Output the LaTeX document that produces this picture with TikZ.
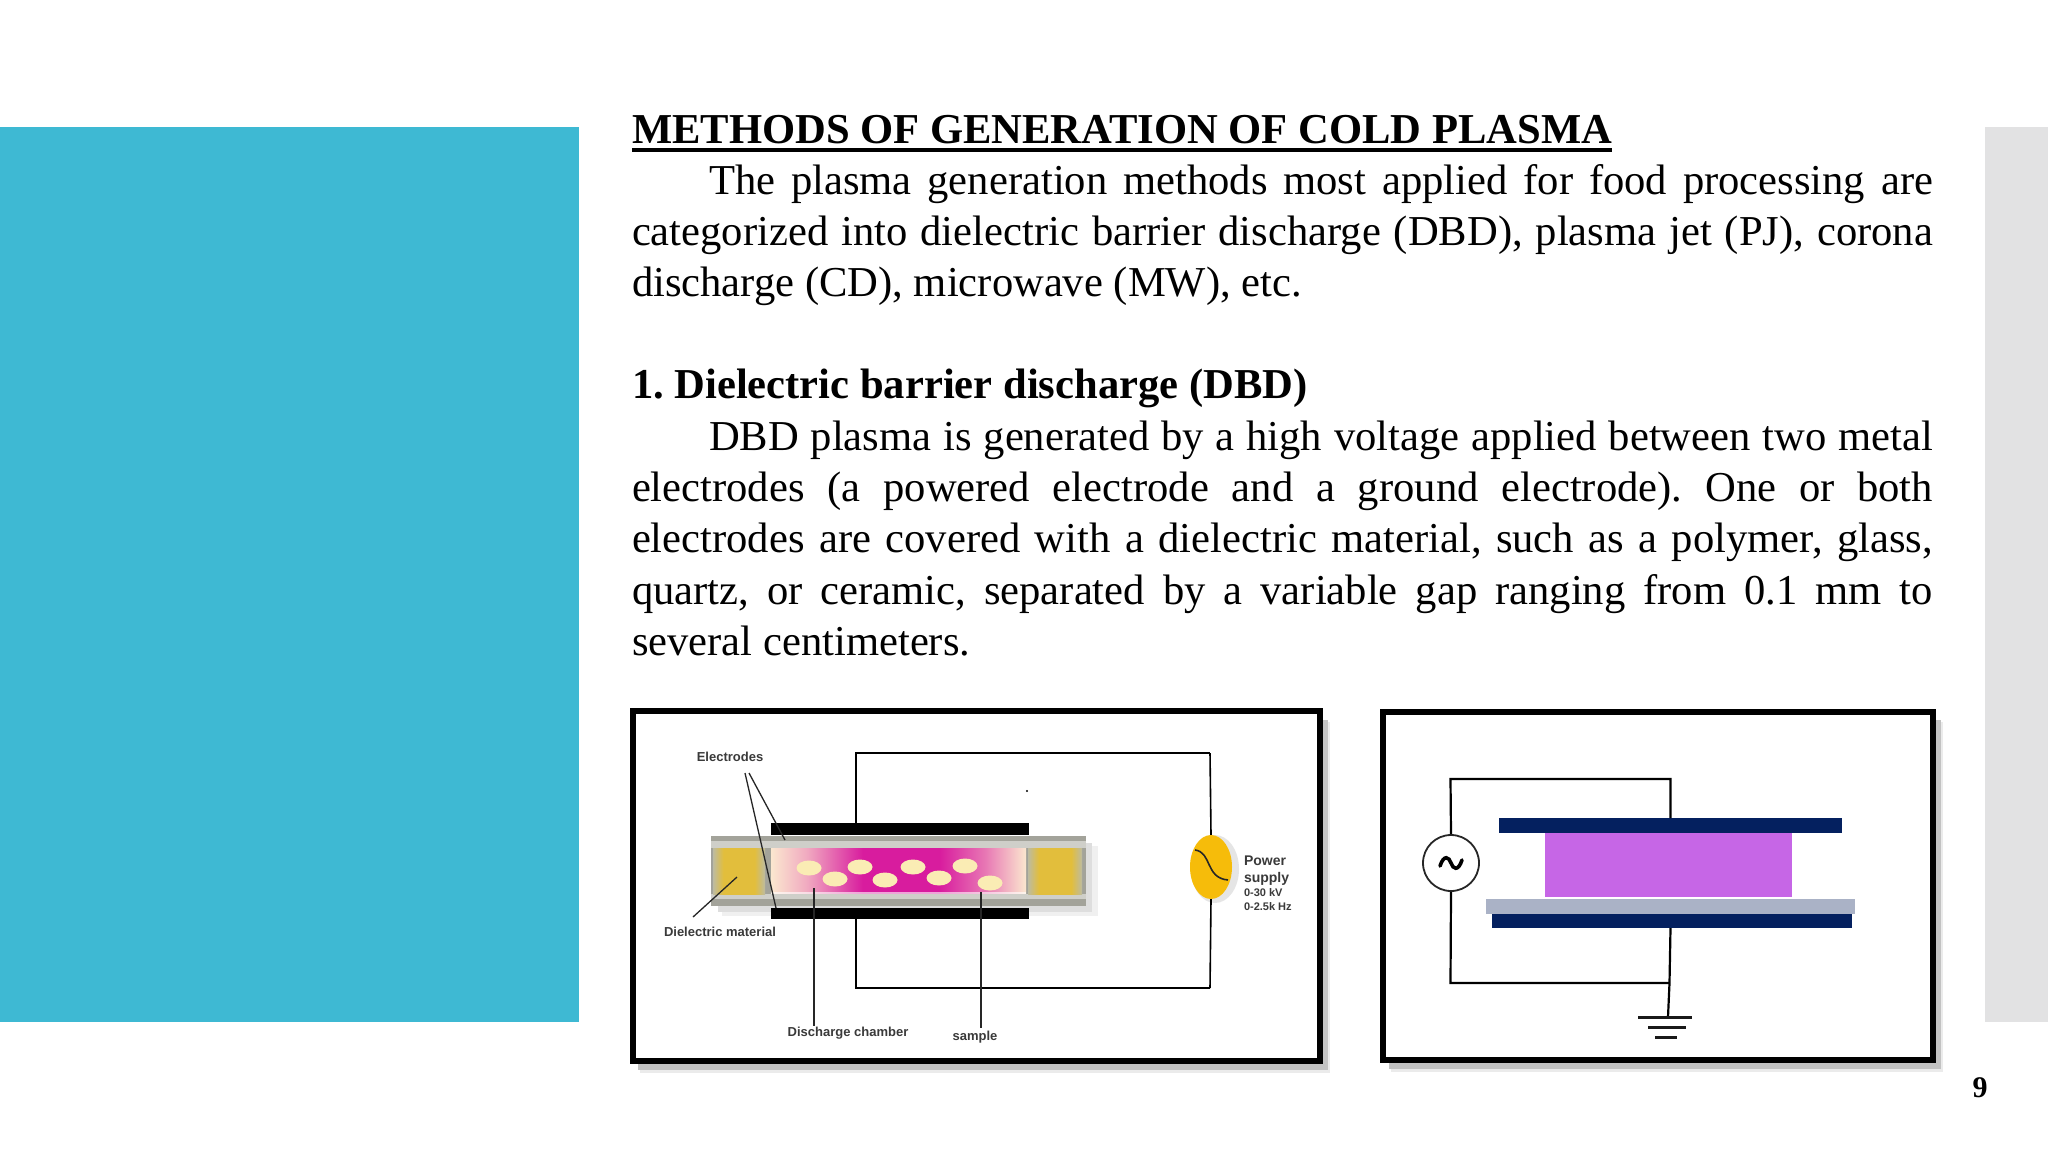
\documentclass[tikz,border=0pt]{standalone}
\usepackage{fontspec}
\setmainfont{Liberation Serif}
\newfontfamily\labelfont{Liberation Sans}
\definecolor{teal1}{HTML}{3EB9D3}
\definecolor{sidegray}{HTML}{E2E2E3}
\definecolor{navy1}{HTML}{04205F}
\definecolor{purp}{HTML}{C666E6}
\definecolor{plategray}{HTML}{AAB2C6}
\definecolor{tubegray}{HTML}{A3A39A}
\definecolor{tubelight}{HTML}{CFCFC9}
\definecolor{magenta1}{HTML}{D81C9E}
\definecolor{palepink}{HTML}{FBE7CF}
\definecolor{gold1}{HTML}{E2BE3C}
\definecolor{goldedge}{HTML}{BDBBA0}
\definecolor{sun}{HTML}{F6BC0A}
\definecolor{seed}{HTML}{FAECB4}
\definecolor{lbl}{HTML}{3A3A3A}
\colorlet{pinkA}{palepink!70!magenta1}
\colorlet{pinkB}{palepink!45!magenta1}
\newcommand{\bodysize}{\fontsize{42.6}{48}\selectfont}
\newcommand{\jline}[1]{\hbox to 1301pt{#1}}
\newcommand{\iline}[1]{\hbox to 1224pt{#1}}
\pgfdeclarehorizontalshading{plasmashade}{100bp}{
  color(0bp)=(palepink); color(25bp)=(palepink); color(32bp)=(pinkA); color(43bp)=(magenta1);
  color(58bp)=(magenta1); color(67bp)=(pinkB); color(75bp)=(palepink); color(100bp)=(palepink)}
\pgfdeclarehorizontalshading{goldshade}{100bp}{
  color(0bp)=(goldedge); color(25bp)=(goldedge); color(35bp)=(gold1); color(65bp)=(gold1); color(75bp)=(goldedge); color(100bp)=(goldedge)}
\usetikzlibrary{shapes.geometric}
\tikzset{
  x=1pt,y=-1pt,
  txt/.style={anchor=base west,inner sep=0pt,outer sep=0pt,font=\bodysize},
  framebox/.style={draw=black,line width=6pt,fill=white,inner sep=0pt,outer sep=0pt},
  solid box/.style={inner sep=0pt,outer sep=0pt,draw=none},
  wire/.style={draw=black,line width=1.6pt},
  leader/.style={draw=black!85,line width=1.3pt},
  wireb/.style={draw=black,line width=2.2pt},
  small/.style={inner sep=0pt,outer sep=0pt,text=lbl,font=\labelfont\bfseries\fontsize{13}{15}\selectfont},
  smalltop/.style={inner sep=0pt,outer sep=0pt,text=lbl,anchor=west,font=\labelfont\bfseries\fontsize{14}{16}\selectfont},
  smaller/.style={inner sep=0pt,outer sep=0pt,text=lbl,anchor=west,font=\labelfont\bfseries\fontsize{11}{13}\selectfont},
  seedball/.style={ellipse,minimum width=25pt,minimum height=15pt,inner sep=0pt,fill=seed},
  groundbar/.style={draw=black!90,line width=3pt},
}
\begin{document}
\frenchspacing
\begin{tikzpicture}
\useasboundingbox (0,0) rectangle (2048,1152);
% background bands
\fill[teal1] (0,127) rectangle (579,1022);
\fill[sidegray] (1985,127) rectangle (2048,1022);
% text
\node[txt,font=\bodysize\bfseries] (title) at (632,143) {METHODS OF GENERATION OF COLD PLASMA};
\draw[line width=3.6pt] ([yshift=-7pt]title.base west) -- ([yshift=-7pt]title.base east);
\node[txt] (l1) at (709,194) {\iline{The plasma generation methods most applied for food processing are}};
\node[txt] (l2) at (632,245) {\jline{categorized into dielectric barrier discharge (DBD), plasma jet (PJ), corona}};
\node[txt] (l3) at (632,296) {discharge (CD), microwave (MW), etc.};
\node[txt,font=\bodysize\bfseries] (h1) at (632,398.5) {1. Dielectric barrier discharge (DBD)};
\node[txt] (l4) at (709,450) {\iline{DBD plasma is generated by a high voltage applied between two metal}};
\node[txt] (l5) at (632,501) {\jline{electrodes (a powered electrode and a ground electrode). One or both}};
\node[txt] (l6) at (632,552.5) {\jline{electrodes are covered with a dielectric material, such as a polymer, glass,}};
\node[txt] (l7) at (632,604) {\jline{quartz, or ceramic, separated by a variable gap ranging from 0.1 mm to}};
\node[txt] (l8) at (632,655) {several centimeters.};
% page number
\node[inner sep=0pt,font=\fontsize{30}{32}\selectfont\bfseries] (pg) at (1980,1088) {9};
% frame shadows
\fill[black!8] (640,722) rectangle (1330,1073);
\fill[black!24] (638,720) rectangle (1328,1070);
\fill[black!8] (1391,722) rectangle (1943,1072);
\fill[black!24] (1389,720) rectangle (1941,1069);
% frames
\node[framebox,minimum width=687pt,minimum height=350pt] (f1) at (976.5,886) {};
\node[framebox,minimum width=550pt,minimum height=348pt] (f2) at (1658,886) {};
% ---- left figure: wiring
\coordinate (wtl) at (856,753);
\coordinate (wtr) at (1210,753);
\coordinate (wbl) at (856,988);
\coordinate (wbr) at (1210,988);
% tube
\fill[black!6] (722,846) rectangle (1098,916);
\fill[black!13] (718,843) rectangle (1092,912);
\fill[tubegray] (711,836) rectangle (1086,906);
\fill[tubelight] (711,841) rectangle (1086,848);
\fill[tubelight] (711,894) rectangle (1086,899);
\node[solid box,minimum width=52pt,minimum height=46pt,shading=goldshade] (yl) at (739,871) {};
\node[solid box,minimum width=54pt,minimum height=46pt,shading=goldshade] (yr) at (1055,871) {};
\node[solid box,minimum width=255pt,minimum height=45pt,shading=plasmashade] (chamber) at (898.5,870.5) {};
\node[solid box,fill=white,opacity=.6,minimum width=255pt,minimum height=1.6pt] (gl) at (898.5,893) {};
\node[solid box,fill=black,minimum width=257.5pt,minimum height=12pt] (etop) at (900,829) {};
\node[solid box,fill=black,minimum width=257.5pt,minimum height=11pt] (ebot) at (900,913.5) {};
\draw[wire] (etop.north -| wtl) -- (wtl) -- (wtr);
\draw[wire] (ebot.south -| wbl) -- (wbl) -- (wbr);
% seeds
\node[seedball] (s1) at (809,868) {};
\node[seedball] (s2) at (835,879) {};
\node[seedball] (s3) at (860,867) {};
\node[seedball] (s4) at (885,880) {};
\node[seedball] (s5) at (913,867) {};
\node[seedball] (s6) at (939,878) {};
\node[seedball] (s7) at (965,866) {};
\node[seedball] (s8) at (990,883) {};
% power supply
\node[ellipse,minimum width=48pt,minimum height=68pt,inner sep=0pt,fill=black!10] (pshalo) at (1215,869) {};
\node[ellipse,minimum width=42pt,minimum height=64pt,inner sep=0pt,fill=sun] (ps) at (1211,867) {};
\draw[wire] (ps.north) -- (wtr);
\draw[wire] (ps.south) -- (wbr);
\draw[black!85,line width=1.6pt] (1195,850) .. controls (1212,852) and (1205,878) .. (1228,880);
% labels
\node[small] (lelec) at (730,757) {Electrodes};
\node[small] (ldiel) at (720,932) {Dielectric material};
\node[small] (ldisc) at (848,1033) {Discharge chamber};
\node[small] (lsamp) at (975,1037) {sample};
\node[smalltop] (lpow) at (1244,861) {Power};
\node[smalltop] (lsup) at (1244,879) {supply};
\node[smaller] (lkv) at (1244,893) {0-30 kV};
\node[smaller] (lhz) at (1244,907) {0-2.5k Hz};
\coordinate (e1a) at (745,773); \coordinate (e1b) at (776,908);
\coordinate (e2a) at (749,773); \coordinate (e2b) at (785,840);
\coordinate (d1) at (737,877);  \coordinate (d2) at (693,917);
\coordinate (c1) at (814,888);  \coordinate (c2) at (814,1026);
\coordinate (m1) at (981,892);  \coordinate (m2) at (981,1028);
\draw[leader] (e1a) -- (e1b);
\draw[leader] (e2a) -- (e2b);
\draw[leader] (d1) -- (d2);
\draw[leader] (c1) -- (c2);
\draw[leader] (m1) -- (m2);
\fill (1027,791) circle (1.2pt);
% ---- right figure
\node[solid box,fill=purp,minimum width=247pt,minimum height=64pt] (plasma) at (1668.5,865) {};
\node[solid box,fill=navy1,minimum width=343pt,minimum height=15pt] (ptop) at (1670.5,825.5) {};
\node[solid box,fill=plategray,minimum width=369pt,minimum height=15pt] (diel) at (1670.5,906.5) {};
\node[solid box,fill=navy1,minimum width=360.5pt,minimum height=14pt] (pbot) at (1671.75,921) {};
\node[circle,draw=black!85,line width=1.8pt,fill=white,minimum size=56pt,inner sep=0pt] (src) at (1451,863) {};
\draw[black,line width=3.6pt,line cap=round] (1440,866) .. controls (1444,854) and (1449,857) .. (1451,863) .. controls (1453,869) and (1458,872) .. (1462,860);
\coordinate (rtl) at (1450.5,779);
\coordinate (rtr) at (1670.5,779);
\coordinate (rbl) at (1450.5,983);
\coordinate (rbr) at (1669.5,983);
\coordinate (gnd) at (1668,1017);
\coordinate (g1a) at (1638,1017); \coordinate (g1b) at (1692,1017);
\coordinate (g2a) at (1648,1027); \coordinate (g2b) at (1686,1027);
\coordinate (g3a) at (1655,1037); \coordinate (g3b) at (1677,1037);
\draw[wireb] (src.north) -- (rtl) -- (rtr) -- (ptop.north -| rtr);
\draw[wireb] (src.south) -- (rbl) -- (rbr);
\draw[wireb] (pbot.south -| rtr) -- (rbr) -- (gnd);
\draw[groundbar] (g1a) -- (g1b);
\draw[groundbar] (g2a) -- (g2b);
\draw[groundbar] (g3a) -- (g3b);
\end{tikzpicture}
\end{document}
